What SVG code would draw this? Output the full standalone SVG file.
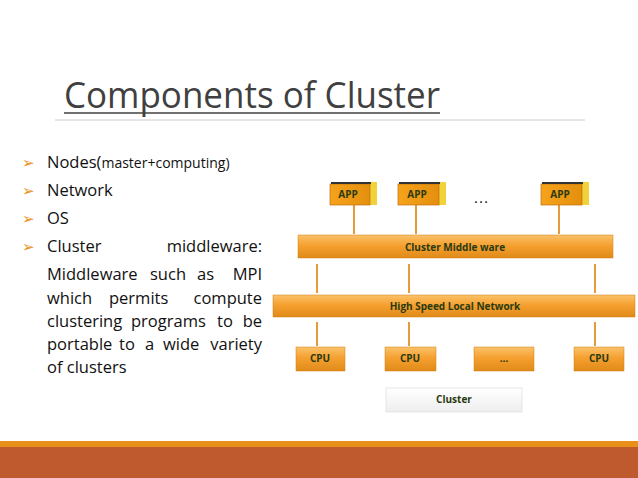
<svg xmlns="http://www.w3.org/2000/svg" width="638" height="478" viewBox="0 0 638 478">
<defs>
<linearGradient id="og" x1="0" y1="0" x2="0" y2="1"><stop offset="0" stop-color="#FBC26A"/><stop offset="0.45" stop-color="#F5A030"/><stop offset="1" stop-color="#E08A18"/></linearGradient>
<linearGradient id="wg" x1="0" y1="0" x2="0" y2="1"><stop offset="0" stop-color="#ffffff"/><stop offset="1" stop-color="#eeeeee"/></linearGradient>
<linearGradient id="ag" x1="0" y1="0" x2="1" y2="0"><stop offset="0" stop-color="#F6A21A"/><stop offset="1" stop-color="#E4900E"/></linearGradient>
</defs>
<style>
.t{font-family:"Open Sans","Liberation Sans",sans-serif;fill:#111}
.e{text-anchor:end}
.b{font-family:"DejaVu Sans",sans-serif;fill:#E8901A;font-size:15px}
.lab{font-family:"Open Sans","Liberation Sans",sans-serif;font-weight:bold;font-size:10px;fill:#2a3a10;text-anchor:middle}
.bar{fill:url(#og);stroke:#D08010;stroke-width:0.5}
.con line{stroke:#E69A3A;stroke-width:2}
</style>
<rect width="638" height="478" fill="#fff"/>
<rect x="0" y="441" width="638" height="6" fill="#E8901A"/>
<rect x="0" y="447" width="638" height="31" fill="#BE5A2E"/>
<line x1="55" y1="120" x2="585" y2="120" stroke="#ccc" stroke-width="1"/>
<text class="t" x="64" y="108" font-size="36" textLength="376" lengthAdjust="spacingAndGlyphs" style="fill:#404040">Components of Cluster</text>
<line x1="64" y1="113" x2="440" y2="113" stroke="#404040" stroke-width="1.5"/>
<g font-size="16.5">
<text class="b" x="22" y="168">➢</text><text class="t" x="47" y="168">Nodes(<tspan font-size="14">master+computing)</tspan></text>
<text class="b" x="22" y="196">➢</text><text class="t" x="47" y="196">Network</text>
<text class="b" x="22" y="224">➢</text><text class="t" x="47" y="224">OS</text>
<text class="b" x="22" y="252">➢</text><text class="t" x="47" y="252">Cluster</text><text class="t e" x="262" y="252">middleware:</text>
<text class="t" y="280"><tspan x="47">Middleware</tspan><tspan x="150">such</tspan><tspan x="197">as</tspan></text><text class="t e" x="262" y="280">MPI</text>
<text class="t" y="304"><tspan x="47">which</tspan><tspan x="109">permits</tspan></text><text class="t e" x="262" y="304">compute</text>
<text class="t" y="327"><tspan x="47">clustering</tspan><tspan x="131">programs</tspan><tspan x="217">to</tspan></text><text class="t e" x="262" y="327">be</text>
<text class="t" y="350"><tspan x="47">portable</tspan><tspan x="119">to</tspan><tspan x="145">a</tspan><tspan x="163">wide</tspan></text><text class="t e" x="262" y="350">variety</text>
<text class="t" x="47" y="373">of clusters</text>
</g>
<g class="con" id="connectors">
<line x1="354" y1="205" x2="354" y2="234"/><line x1="416" y1="205" x2="416" y2="234"/><line x1="559" y1="205" x2="559" y2="234"/>
<line x1="317" y1="264" x2="317" y2="293"/><line x1="409" y1="264" x2="409" y2="293"/><line x1="595" y1="264" x2="595" y2="293"/>
<line x1="317" y1="322" x2="317" y2="346"/><line x1="409" y1="322" x2="409" y2="346"/><line x1="595" y1="322" x2="595" y2="346"/>
</g>
<g id="app1"><rect x="333" y="182" width="44" height="23" fill="#F2D23A"/><rect x="330" y="184" width="40" height="21" fill="url(#ag)" stroke="#C07010" stroke-width="0.7"/><rect x="331" y="182" width="40" height="2" fill="#333"/><text class="lab" x="348" y="198">APP</text></g>
<g id="app2"><rect x="401" y="182" width="45" height="23" fill="#F2D23A"/><rect x="398" y="184" width="41" height="21" fill="url(#ag)" stroke="#C07010" stroke-width="0.7"/><rect x="399" y="182" width="41" height="2" fill="#333"/><text class="lab" x="417" y="198">APP</text></g>
<text x="481" y="203" font-family="Liberation Sans,sans-serif" font-size="16" fill="#222" text-anchor="middle">…</text>
<g id="app3"><rect x="544" y="182" width="45" height="23" fill="#F2D23A"/><rect x="541" y="184" width="41" height="21" fill="url(#ag)" stroke="#C07010" stroke-width="0.7"/><rect x="542" y="182" width="41" height="2" fill="#333"/><text class="lab" x="560" y="198">APP</text></g>
<g id="middleware"><rect class="bar" x="298" y="235" width="315" height="23"/><text class="lab" x="455" y="251">Cluster Middle ware</text></g>
<g id="network"><rect class="bar" x="273" y="295" width="362" height="22"/><text class="lab" x="455" y="310">High Speed Local Network</text></g>
<g id="cpu1"><rect class="bar" x="296" y="347" width="49" height="24"/><text class="lab" x="320" y="362">CPU</text></g>
<g id="cpu2"><rect class="bar" x="385" y="347" width="51" height="24"/><text class="lab" x="410" y="362">CPU</text></g>
<g id="cpu3"><rect class="bar" x="474" y="347" width="60" height="24"/><text class="lab" x="504" y="362">…</text></g>
<g id="cpu4"><rect class="bar" x="574" y="347" width="50" height="24"/><text class="lab" x="599" y="362">CPU</text></g>
<g id="cluster"><rect x="386" y="388" width="136" height="24" fill="url(#wg)" stroke="#ddd" stroke-width="0.7"/><text class="lab" x="454" y="403">Cluster</text></g>
</svg>
